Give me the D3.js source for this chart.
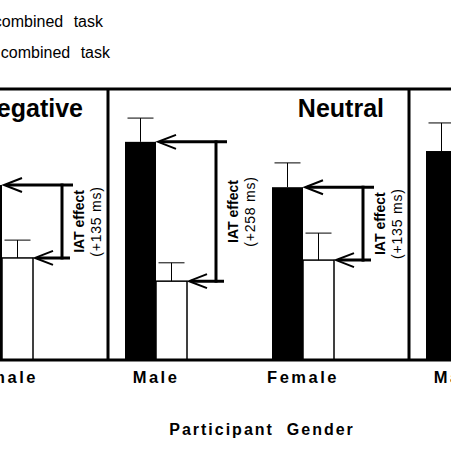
<!DOCTYPE html>
<html>
<head>
<meta charset="utf-8">
<script src="https://cdn.jsdelivr.net/npm/d3@7"></script>
<style>
  body { margin: 0; background: #fff; }
  svg { display: block; font-family: "Liberation Sans", Arial, sans-serif; }
</style>
</head>
<body>
<div id="chart"></div>
<script>
// panels (valence conditions) and groups
const conditions = ["Negative", "Neutral", "Positive"];
const genders = ["Male", "Female"];

// visible bars only (the rest of the figure is cropped away)
const barCondition = ["Negative", "Neutral", "Neutral", "Positive"];
const barGender = ["Female", "Male", "Female", "Male"];
const incompatibleMs = [824, 904, 820, 887];
const incompatibleSe = [33, 44, 45, 52];
const compatibleMs = [689, 646, 685, null];
const compatibleSe = [33, 34, 50, null];

const legendLabels = ["Incompatible combined task", "Compatible combined task"];
const xTitle = "Participant  Gender";

const width = 451, height = 451;
const frameTop = 89, frameBottom = 360;
const barW = 31;

const svg = d3.select("#chart").append("svg")
    .attr("width", width)
    .attr("height", height);

//panel scale, every panel 301px wide
const panelX = d3.scaleBand().domain(conditions).range([-193, 710]);
//group centers inside a panel
const groupX = d3.scalePoint().domain(genders).range([48, 195]);

const y = d3.scaleLinear().domain([500, 1000]).range([frameBottom, frameBottom - 270]);

const bars = barCondition.map((c, i) => ({
    cond: c,
    gender: barGender[i],
    cx: panelX(c) + groupX(barGender[i]),
    inc: incompatibleMs[i], incSe: incompatibleSe[i],
    com: compatibleMs[i], comSe: compatibleSe[i]
}));

// legend text (swatches cropped off on the left)
svg.selectAll(".legend")
    .data(legendLabels)
    .enter()
    .append("text")
    .attr("x", (d, i) => i == 0 ? 103 : 110)
    .attr("y", (d, i) => 27 + i * 31)
    .attr("text-anchor", "end")
    .attr("font-size", 16)
    .attr("word-spacing", 6)
    .text(d => d);

// black bars = incompatible
svg.selectAll(".inc")
    .data(bars)
    .enter()
    .append("rect")
    .attr("x", d => d.cx - barW)
    .attr("y", d => y(d.inc))
    .attr("width", barW)
    .attr("height", d => frameBottom - y(d.inc))
    .attr("fill", "#000");

// white bars = compatible
const comBars = bars.filter(d => d.com != null);
svg.selectAll(".com")
    .data(comBars)
    .enter()
    .append("rect")
    .attr("x", d => d.cx)
    .attr("y", d => y(d.com))
    .attr("width", barW)
    .attr("height", d => frameBottom - y(d.com))
    .attr("fill", "#fff")
    .attr("stroke", "#000")
    .attr("stroke-width", 1.5);

// error bars
function errorBar(x, mean, se) {
    svg.append("line")
        .attr("x1", x).attr("x2", x)
        .attr("y1", y(mean)).attr("y2", y(mean + se))
        .attr("stroke", "#000").attr("stroke-width", 1);
    svg.append("line")
        .attr("x1", x - 13).attr("x2", x + 13)
        .attr("y1", y(mean + se)).attr("y2", y(mean + se))
        .attr("stroke", "#000").attr("stroke-width", 1);
}
bars.forEach(d => {
    errorBar(d.cx - barW / 2, d.inc, d.incSe);
    if (d.com != null) errorBar(d.cx + barW / 2, d.com, d.comSe);
});

// IAT effect brackets
function arrow(tipX, yy, endX) {
    svg.append("line")
        .attr("x1", tipX + 2).attr("x2", endX)
        .attr("y1", yy).attr("y2", yy)
        .attr("stroke", "#000").attr("stroke-width", 3);
    svg.append("path")
        .attr("d", "M" + (tipX + 18) + "," + (yy - 7) + "L" + tipX + "," + yy + "L" + (tipX + 18) + "," + (yy + 7))
        .attr("fill", "none")
        .attr("stroke", "#000")
        .attr("stroke-width", 2);
}
comBars.forEach(d => {
    let vx = d.cx + barW + 29;
    let yTop = y(d.inc), yBot = y(d.com);
    arrow(d.cx + 2, yTop, vx + 11);
    arrow(d.cx + barW + 2, yBot, vx + 8);
    svg.append("line")
        .attr("x1", vx).attr("x2", vx)
        .attr("y1", yTop - 1.5).attr("y2", yBot + 1.5)
        .attr("stroke", "#000").attr("stroke-width", 3);

    let mid = (yTop + yBot) / 2;
    let g = svg.append("g")
        .attr("transform", "translate(" + vx + "," + mid + ") rotate(-90)")
        .attr("text-anchor", "middle");
    g.append("text")
        .attr("y", 22)
        .attr("font-size", 14)
        .attr("font-weight", "bold")
        .text("IAT effect");
    g.append("text")
        .attr("y", 39)
        .attr("font-size", 14)
        .attr("letter-spacing", 0.8)
        .text("(+" + (d.inc - d.com) + " ms)");
});

// frame
svg.append("line")
    .attr("x1", 0).attr("x2", width)
    .attr("y1", frameTop).attr("y2", frameTop)
    .attr("stroke", "#000").attr("stroke-width", 3);
svg.append("line")
    .attr("x1", 0).attr("x2", width)
    .attr("y1", frameBottom).attr("y2", frameBottom)
    .attr("stroke", "#000").attr("stroke-width", 3);
svg.selectAll(".divider")
    .data(conditions.slice(1))
    .enter()
    .append("line")
    .attr("x1", d => panelX(d)).attr("x2", d => panelX(d))
    .attr("y1", frameTop).attr("y2", frameBottom)
    .attr("stroke", "#000").attr("stroke-width", 3);

// panel titles
svg.selectAll(".title")
    .data(conditions)
    .enter()
    .append("text")
    .attr("x", d => panelX(d) + panelX.bandwidth() - 25)
    .attr("y", 117)
    .attr("text-anchor", "end")
    .attr("font-size", 25)
    .attr("font-weight", "bold")
    .text(d => d);

// gender labels
conditions.forEach(c => {
    svg.selectAll(null)
        .data(genders)
        .enter()
        .append("text")
        .attr("x", d => panelX(c) + groupX(d))
        .attr("y", 383)
        .attr("text-anchor", "middle")
        .attr("font-size", 16.5)
        .attr("font-weight", "bold")
        .attr("letter-spacing", 2.5)
        .text(d => d);
});

svg.append("text")
    .attr("x", 262)
    .attr("y", 435)
    .attr("text-anchor", "middle")
    .attr("font-size", 16)
    .attr("font-weight", "bold")
    .attr("letter-spacing", 2)
    .style("white-space", "pre")
    .text(xTitle);
</script>
</body>
</html>
